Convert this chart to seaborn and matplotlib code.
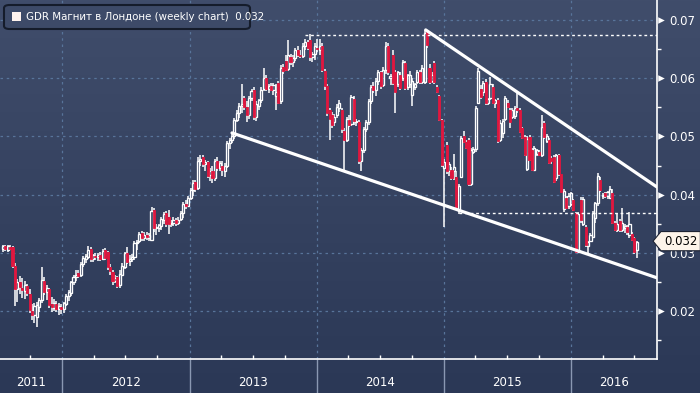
import numpy as np
import pandas as pd
import seaborn as sns
import matplotlib.pyplot as plt
import matplotlib.dates as mdates
import matplotlib.transforms as mtransforms
from matplotlib.colors import LinearSegmentedColormap
from matplotlib.patches import FancyBboxPatch, Rectangle, Polygon

# weekly candles, GDR Magnit (London)
first_week = '2011-07-15'
opens = [
    .0306, .0311, .0305, .0310, .0310, .0278, .0238, .0250, .0240, .0234,
    .0243, .0230, .0200, .0193, .0189, .0207, .0219, .0252, .0232, .0238,
    .0212, .0205, .0212, .0204, .0206, .0204,
    .0212, .0225, .0231, .0249, .0258, .0265, .0262, .0280, .0290, .0293,
    .0306, .0290, .0295, .0292, .0296, .0290, .0304, .0301, .0276, .0267,
    .0252, .0258, .0244, .0262, .0276, .0300, .0286, .0289, .0292, .0316,
    .0320, .0334, .0325, .0330, .0326, .0322, .0374, .0343, .0342, .0346,
    .0356, .0368, .0362, .0349, .0351, .0356, .0352, .0358, .0368, .0384,
    .0380, .0395,
    .0408, .0422, .0411, .0458, .0464, .0452, .0456, .0434, .0440, .0428,
    .0458, .0446, .0450, .0440, .0450, .0488, .0494, .0500, .0528, .0540,
    .0552, .0566, .0550, .0536, .0566, .0580, .0534, .0552, .0562, .0582,
    .0600, .0582, .0586, .0580, .0570, .0592, .0560, .0620, .0630, .0616,
    .0636, .0628, .0634, .0648, .0640, .0638, .0655, .0662, .0665, .0636,
    .0642, .0652,
    .0648, .0655, .0612, .0586, .0545, .0536, .0525, .0537, .0548, .0545,
    .0510, .0494, .0528, .0522, .0565, .0524, .0524, .0458, .0476, .0512,
    .0524, .0560, .0586, .0580, .0596, .0610, .0588, .0614, .0656, .0600,
    .0640, .0610, .0590, .0605, .0600, .0626, .0585, .0590, .0572, .0585,
    .0594, .0610, .0594, .0594, .0680, .0618, .0596, .0626, .0585, .0570,
    .0528, .0446,
    .0485, .0440, .0442, .0440, .0430, .0372, .0430, .0500, .0490, .0494,
    .0418, .0474, .0478, .0558, .0582, .0576, .0594, .0558, .0566, .0585,
    .0558, .0562, .0494, .0505, .0530, .0558, .0545, .0534, .0535, .0548,
    .0545, .0514, .0499, .0444, .0499, .0477, .0442, .0470, .0474, .0468,
    .0523, .0492, .0494, .0463, .0465, .0428, .0468, .0435, .0375, .0394,
    .0380, .0384, .0390, .0368, .0302, .0390, .0350, .0344, .0312, .0320,
    .0328, .0360, .0385, .0425, .0397, .0403, .0397, .0395, .0403, .0351,
    .0340, .0355, .0340, .0342, .0345, .0330, .0333, .0325, .0305,
]
highs = [
    .0314, .0313, .0313, .0313, .0312, .0282, .0255, .0260, .0256, .0252,
    .0247, .0238, .0212, .0214, .0215, .0222, .0275, .0258, .0245, .0240,
    .0224, .0220, .0217, .0214, .0212, .0216,
    .0230, .0236, .0252, .0262, .0270, .0270, .0285, .0295, .0298, .0312,
    .0310, .0298, .0300, .0300, .0302, .0306, .0308, .0303, .0280, .0270,
    .0262, .0260, .0270, .0282, .0302, .0310, .0296, .0298, .0320, .0322,
    .0336, .0338, .0336, .0335, .0334, .0378, .0377, .0350, .0349, .0362,
    .0370, .0372, .0374, .0356, .0362, .0360, .0361, .0372, .0388, .0390,
    .0398, .0412,
    .0425, .0425, .0465, .0468, .0468, .0460, .0458, .0445, .0450, .0462,
    .0465, .0458, .0458, .0455, .0492, .0498, .0508, .0532, .0545, .0558,
    .0590, .0570, .0560, .0570, .0582, .0585, .0560, .0565, .0585, .0618,
    .0605, .0590, .0592, .0592, .0590, .0596, .0622, .0624, .0640, .0666,
    .0642, .0640, .0652, .0656, .0648, .0660, .0668, .0665, .0676, .0645,
    .0660, .0668,
    .0668, .0660, .0616, .0590, .0548, .0542, .0538, .0555, .0562, .0548,
    .0514, .0534, .0536, .0572, .0570, .0530, .0528, .0480, .0516, .0528,
    .0565, .0588, .0594, .0600, .0614, .0612, .0620, .0662, .0660, .0608,
    .0648, .0614, .0612, .0610, .0632, .0630, .0608, .0612, .0600, .0592,
    .0614, .0614, .0622, .0683, .0682, .0624, .0610, .0630, .0588, .0572,
    .0530, .0462,
    .0490, .0456, .0448, .0470, .0440, .0418, .0500, .0510, .0494, .0498,
    .0480, .0482, .0552, .0617, .0588, .0596, .0598, .0566, .0602, .0590,
    .0565, .0566, .0528, .0530, .0570, .0562, .0548, .0548, .0552, .0575,
    .0548, .0516, .0502, .0500, .0502, .0480, .0484, .0478, .0476, .0537,
    .0526, .0504, .0498, .0466, .0468, .0470, .0470, .0436, .0410, .0398,
    .0402, .0404, .0393, .0370, .0370, .0396, .0396, .0348, .0320, .0334,
    .0372, .0388, .0437, .0430, .0402, .0405, .0406, .0414, .0410, .0354,
    .0368, .0358, .0377, .0350, .0348, .0370, .0336, .0328, .0320,
]
lows = [
    .0302, .0303, .0302, .0304, .0274, .0208, .0215, .0230, .0222, .0220,
    .0225, .0196, .0184, .0180, .0172, .0199, .0213, .0228, .0219, .0205,
    .0198, .0200, .0198, .0193, .0195, .0196,
    .0208, .0218, .0226, .0244, .0252, .0257, .0258, .0275, .0282, .0290,
    .0285, .0285, .0287, .0286, .0286, .0288, .0288, .0270, .0262, .0245,
    .0248, .0240, .0240, .0260, .0273, .0280, .0278, .0284, .0288, .0305,
    .0316, .0320, .0321, .0322, .0320, .0320, .0335, .0330, .0336, .0340,
    .0350, .0345, .0332, .0344, .0346, .0346, .0347, .0354, .0360, .0376,
    .0378, .0390,
    .0398, .0405, .0408, .0450, .0448, .0440, .0428, .0424, .0420, .0424,
    .0440, .0440, .0432, .0430, .0446, .0478, .0488, .0496, .0524, .0532,
    .0540, .0545, .0525, .0530, .0560, .0528, .0526, .0545, .0558, .0578,
    .0578, .0574, .0578, .0572, .0545, .0555, .0556, .0608, .0612, .0612,
    .0622, .0620, .0630, .0636, .0634, .0634, .0648, .0648, .0630, .0628,
    .0632, .0645,
    .0640, .0610, .0580, .0535, .0494, .0515, .0518, .0532, .0542, .0505,
    .0442, .0490, .0516, .0518, .0520, .0518, .0452, .0440, .0472, .0508,
    .0520, .0556, .0575, .0570, .0588, .0582, .0585, .0608, .0605, .0588,
    .0588, .0540, .0585, .0580, .0596, .0580, .0580, .0584, .0552, .0580,
    .0590, .0590, .0590, .0590, .0652, .0590, .0592, .0590, .0574, .0526,
    .0448, .0344,
    .0436, .0432, .0425, .0425, .0376, .0366, .0428, .0488, .0478, .0414,
    .0414, .0470, .0474, .0555, .0564, .0570, .0554, .0554, .0562, .0555,
    .0548, .0488, .0490, .0498, .0526, .0548, .0515, .0530, .0530, .0540,
    .0506, .0495, .0466, .0440, .0458, .0440, .0440, .0466, .0466, .0464,
    .0496, .0488, .0452, .0452, .0420, .0424, .0432, .0405, .0370, .0375,
    .0376, .0380, .0372, .0300, .0300, .0352, .0346, .0310, .0300, .0318,
    .0325, .0352, .0380, .0405, .0392, .0394, .0392, .0392, .0350, .0338,
    .0336, .0336, .0336, .0334, .0330, .0326, .0320, .0298, .0291,
]
closes = [
    .0311, .0306, .0311, .0307, .0278, .0238, .0250, .0241, .0236, .0244,
    .0231, .0202, .0193, .0208, .0210, .0219, .0253, .0232, .0240, .0210,
    .0206, .0213, .0204, .0208, .0204, .0213,
    .0226, .0232, .0249, .0258, .0262, .0260, .0280, .0291, .0294, .0305,
    .0290, .0296, .0292, .0296, .0290, .0303, .0291, .0275, .0268, .0251,
    .0256, .0243, .0264, .0278, .0299, .0285, .0290, .0293, .0316, .0318,
    .0332, .0325, .0331, .0327, .0330, .0372, .0343, .0345, .0347, .0358,
    .0366, .0350, .0350, .0352, .0356, .0352, .0357, .0368, .0384, .0380,
    .0394, .0408,
    .0420, .0410, .0458, .0462, .0452, .0456, .0432, .0440, .0428, .0458,
    .0446, .0454, .0442, .0450, .0488, .0494, .0500, .0528, .0540, .0552,
    .0556, .0550, .0536, .0566, .0578, .0534, .0555, .0562, .0580, .0600,
    .0582, .0586, .0580, .0588, .0576, .0558, .0618, .0612, .0614, .0640,
    .0628, .0634, .0648, .0640, .0638, .0655, .0663, .0652, .0636, .0642,
    .0655, .0650,
    .0656, .0614, .0586, .0540, .0530, .0520, .0533, .0550, .0558, .0512,
    .0494, .0530, .0520, .0568, .0526, .0526, .0458, .0476, .0512, .0524,
    .0560, .0585, .0580, .0596, .0610, .0586, .0614, .0656, .0610, .0604,
    .0592, .0576, .0610, .0584, .0628, .0584, .0605, .0606, .0596, .0590,
    .0610, .0594, .0618, .0678, .0657, .0594, .0606, .0594, .0576, .0528,
    .0451, .0456,
    .0440, .0452, .0428, .0448, .0378, .0415, .0498, .0490, .0480, .0418,
    .0476, .0478, .0548, .0612, .0567, .0592, .0558, .0564, .0590, .0558,
    .0562, .0492, .0523, .0526, .0566, .0550, .0525, .0545, .0548, .0545,
    .0508, .0497, .0468, .0496, .0460, .0442, .0480, .0476, .0468, .0516,
    .0499, .0500, .0454, .0458, .0422, .0468, .0435, .0405, .0406, .0377,
    .0398, .0402, .0374, .0302, .0366, .0356, .0392, .0313, .0318, .0330,
    .0368, .0385, .0432, .0408, .0400, .0397, .0404, .0410, .0352, .0340,
    .0350, .0339, .0352, .0346, .0336, .0350, .0322, .0302, .0318,
]

title = 'GDR Магнит в Лондоне (weekly chart)'
last_label = '0.032'
last_value = 0.032
y_ticks = [0.02, 0.03, 0.04, 0.05, 0.06, 0.07]
years = ['2011', '2012', '2013', '2014', '2015', '2016']

# hand-drawn channel and levels
lower_line_dates = ['2013-05-03', '2016-09-04']
lower_line_vals = [0.0506, 0.0257]
upper_line_dates = ['2014-11-10', '2016-09-04']
upper_line_vals = [0.0683, 0.0413]
top_level_dates = ['2013-11-28', '2016-09-04']
top_level = 0.0674
low_level_dates = ['2015-02-15', '2016-09-04']
low_level = 0.0368

x_left, x_right = '2011-07-07', '2016-09-04'

red = '#e0173f'
grid_col = '#58749a'

sns.set_style('dark')
plt.rcParams['font.family'] = ['DejaVu Sans', 'Noto Sans']

fig = plt.figure(figsize=(7, 3.93), dpi=100)

bg = fig.add_axes([0, 0, 1, 1], zorder=0)
grad = np.linspace(0, 1, 256).reshape(-1, 1)
cmap = LinearSegmentedColormap.from_list('bg', ['#404d6b', '#2b3856'])
bg.imshow(grad, aspect='auto', cmap=cmap, extent=[0, 1, 0, 1])
bg.set_xlim(0, 1)
bg.set_ylim(0, 1)
bg.axis('off')

ax = fig.add_axes([0, 34 / 393, 657 / 700, 359 / 393], zorder=1)
ax.patch.set_alpha(0)

dates = mdates.date2num(pd.date_range(first_week, periods=len(closes), freq='7D'))
o = np.array(opens)
h = np.array(highs)
l = np.array(lows)
c = np.array(closes)
top = np.maximum(o, c)
bot = np.minimum(o, c)
up = c >= o

ax.vlines(dates, top, np.maximum(h, top), colors='white', lw=1.1, zorder=3)
ax.vlines(dates, np.minimum(l, bot), bot, colors='white', lw=1.1, zorder=3)
ax.bar(dates[up], (c - o)[up], bottom=o[up], width=6.0, facecolor='none',
       edgecolor='white', linewidth=0.95, zorder=4)
ax.bar(dates[~up], (o - c)[~up], bottom=c[~up], width=6.0, color=red,
       edgecolor=red, linewidth=0.6, zorder=4)

# channel lines
for dd, vv in [(lower_line_dates, lower_line_vals), (upper_line_dates, upper_line_vals)]:
    sns.lineplot(x=mdates.date2num(pd.to_datetime(dd)), y=vv, ax=ax,
                 color='white', lw=2.3, zorder=5)
for dd, lev in [(top_level_dates, top_level), (low_level_dates, low_level)]:
    d = mdates.date2num(pd.to_datetime(dd))
    ax.hlines(lev, d[0], d[1], colors='white', lw=1.0, linestyles=(0, (2, 2)), zorder=5)

# ticks and grid (limits set afterwards, set_xticks widens the view)
year_starts = mdates.date2num(pd.to_datetime([f'{y}-01-01' for y in years] + ['2017-01-01']))
quarters = mdates.date2num(pd.date_range('2011-01-01', '2016-12-31', freq='QS'))
quarters = [q for q in quarters if q not in set(year_starts)]
ax.set_xticks(year_starts[1:-1])
ax.set_xticks(quarters, minor=True)
ax.set_xticklabels([])
ax.set_yticks(y_ticks)
ax.set_yticks(np.arange(0.015, 0.075, 0.01), minor=True)
ax.grid(True, which='major', color=grid_col, ls=(0, (2, 3)), lw=0.9)
ax.grid(False, which='minor')

ax.set_xlim(mdates.date2num(pd.Timestamp(x_left)), mdates.date2num(pd.Timestamp(x_right)))
ax.set_ylim(0.01175, 0.07344)

for sp in ['top', 'left']:
    ax.spines[sp].set_visible(False)
for sp in ['bottom', 'right']:
    ax.spines[sp].set_visible(True)
    ax.spines[sp].set_color('white')
    ax.spines[sp].set_linewidth(1.2)

ax.tick_params(axis='x', which='major', direction='out', length=25, width=1,
               color='#8a98b2', bottom=True)
ax.tick_params(axis='x', which='minor', direction='in', length=3, width=1,
               color='white', bottom=True)
ax.yaxis.tick_right()
ax.tick_params(axis='y', which='major', length=0, pad=9, labelsize=8.5,
               labelcolor='white', right=True, left=False)
ax.tick_params(axis='y', which='minor', direction='out', length=3, width=1,
               color='white', right=True, left=False)
ax.yaxis.set_major_formatter(plt.FuncFormatter(lambda v, p: f'{v:.2f}'))
ax.set_xlabel('')
ax.set_ylabel('')

blend_y = mtransforms.blended_transform_factory(ax.transAxes, ax.transData)
ax.scatter([1.006] * len(y_ticks), y_ticks, transform=blend_y, marker='>', s=22,
           color='white', clip_on=False, zorder=6, linewidths=0)

# year labels centred in the visible part of each year
blend_x = mtransforms.blended_transform_factory(ax.transData, ax.transAxes)
xl = ax.get_xlim()
for i, y in enumerate(years):
    a = max(year_starts[i], xl[0])
    b = min(year_starts[i + 1], xl[1])
    ax.text((a + b) / 2, -0.066, y, transform=blend_x, ha='center', va='center',
            color='white', fontsize=8.5)

# last price tag
hh = 0.00165
tag = Polygon([(0.994, last_value), (1.006, last_value + hh), (1.066, last_value + hh),
               (1.066, last_value - hh), (1.006, last_value - hh)], closed=True,
              transform=blend_y, facecolor='#fdf4ea', edgecolor='#1c2233', lw=0.8,
              clip_on=False, zorder=7)
ax.add_patch(tag)
ax.text(1.037, last_value, last_label, transform=blend_y, ha='center', va='center',
        color='black', fontsize=8.5, zorder=8, clip_on=False)

# legend box
box = FancyBboxPatch((4 / 700, (393 - 29) / 393), 246 / 700, 24 / 393,
                     boxstyle='round,pad=0,rounding_size=0.008', transform=fig.transFigure,
                     facecolor='#3d4a68', edgecolor='#151c2b', lw=1.5, zorder=10)
fig.patches.append(box)
fig.patches.append(Rectangle((12 / 700, (393 - 21) / 393), 9 / 700, 9 / 393,
                             transform=fig.transFigure, facecolor='#fff3ee',
                             edgecolor='none', zorder=11))
fig.text(26 / 700, (393 - 16.5) / 393, f'{title}  {last_label}', color='white',
         fontsize=7.4, va='center', ha='left', zorder=12)

fig.savefig('out.png', dpi=100)
